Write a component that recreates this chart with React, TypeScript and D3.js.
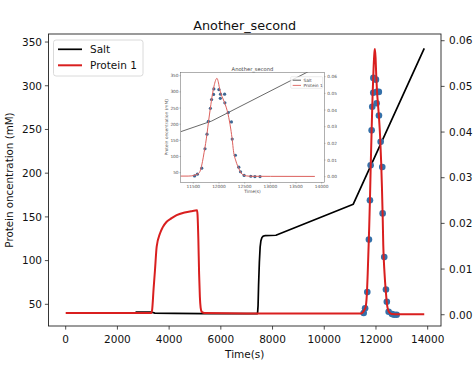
import React from 'react';
import * as d3 from 'd3';

// Protein 1 trace (left axis, mM)
const proteinTime = [0, 3300, 3340, 3400, 3453, 3519, 3646, 3750, 3905, 4100, 4292, 4600, 4850, 5080, 5100, 5130, 5160, 5190, 5220, 5260, 5330, 5400, 7000, 11400, 11460, 11500, 11547, 11600, 11640, 11680, 11710, 11740, 11767, 11800, 11833, 11870, 11910, 11940, 11960, 11985, 12010, 12040, 12080, 12120, 12160, 12200, 12230, 12260, 12282, 12330, 12386, 12430, 12476, 12540, 12606, 13000, 13867];
const proteinConc = [40, 40, 43, 68, 89, 116, 131, 138, 144.5, 148.5, 152, 155, 156.5, 157.5, 152, 125, 85, 58, 46, 41.5, 40.3, 40, 39.6, 39.5, 40, 41, 43.5, 47, 58, 85, 112, 140, 170, 212, 250, 290, 322, 338, 342, 332, 312, 294, 278, 262, 242, 213, 185, 150, 118, 86, 63, 49, 43, 40, 39, 38.7, 38.5];

// Salt trace (right axis)
const saltTime = [2700, 3300, 3450, 4200, 5300, 7420, 7440, 7460, 7490, 7520, 7550, 7590, 7640, 7700, 8130, 11122, 13867];
const saltConc = [0.0006, 0.0006, 0.00035, 0.00028, 0.00026, 0.00026, 0.002, 0.0065, 0.0115, 0.0148, 0.0162, 0.0169, 0.0172, 0.0173, 0.0174, 0.0242, 0.0583];

// Measured fractions (left axis)
const pointTime = [11525, 11580, 11665, 11728, 11767, 11794, 11833, 11856, 11895, 11900, 11999, 12030, 12026, 12110, 12115, 12181, 12243, 12258, 12320, 12386, 12420, 12490, 12620, 12700, 12800];
const pointConc = [40, 45.5, 64, 124, 169, 209, 249, 276, 292, 309, 307, 293, 280, 293, 266, 236, 207, 154, 104, 67, 53, 41.5, 39, 38, 38];

// Inset salt trace (its own right axis)
const insetSaltTime = [11255, 11858, 13750];
const insetSaltConc = [0.027, 0.0334, 0.0632];

const xTicks = [0, 2000, 4000, 6000, 8000, 10000, 12000, 14000];
const yTicks = [50, 100, 150, 200, 250, 300, 350];
const y2Ticks = [0, 0.01, 0.02, 0.03, 0.04, 0.05, 0.06];
const insetXTicks = [11500, 12000, 12500, 13000, 13500, 14000];

const FONT = '"DejaVu Sans", sans-serif';
const RED = '#d91f1f';
const BLUE = '#3470a9';

const L = 48.5, R = 441, T = 34, B = 326;
const IL = 180.7, IR = 324.3, IT = 72.3, IB = 182.3;

export default function App() {
  const x = d3.scaleLinear().domain([-665, 14515]).range([L, R]);
  const y = d3.scaleLinear().domain([25.2, 359.2]).range([B, T]);
  const y2 = d3.scaleLinear().domain([-0.00247, 0.06147]).range([B, T]);

  const ix = d3.scaleLinear().domain([11255, 14051]).range([IL, IR]);
  const iy = d3.scaleLinear().domain([20.3, 360.5]).range([IB, IT]);
  const iy2 = d3.scaleLinear().domain([-0.00336, 0.06264]).range([IB, IT]);

  const protein = proteinTime.map((t, i) => [t, proteinConc[i]] as [number, number]);
  const salt = saltTime.map((t, i) => [t, saltConc[i]] as [number, number]);
  const insetSalt = insetSaltTime.map((t, i) => [t, insetSaltConc[i]] as [number, number]);

  const redLine = d3.line<[number, number]>().x(d => x(d[0])).y(d => y(d[1])).curve(d3.curveMonotoneX);
  const blackLine = d3.line<[number, number]>().x(d => x(d[0])).y(d => y2(d[1]));
  const iRedLine = d3.line<[number, number]>().x(d => ix(d[0])).y(d => iy(d[1])).curve(d3.curveMonotoneX);
  const iBlackLine = d3.line<[number, number]>().x(d => ix(d[0])).y(d => iy2(d[1]));

  const fmt2 = d3.format('.2f');

  return (
    <svg width={474} height={372} style={{ position: 'fixed', left: 0, top: 0, background: '#fff' }} fontFamily={FONT}>
      <defs>
        <clipPath id="main-clip"><rect x={L} y={T} width={R - L} height={B - T} /></clipPath>
        <clipPath id="inset-clip"><rect x={IL} y={IT} width={IR - IL} height={IB - IT} /></clipPath>
      </defs>
      <rect x={0} y={0} width={474} height={372} fill="#fff" />

      {/* main data */}
      <g clipPath="url(#main-clip)">
        <path d={blackLine(salt) || ''} fill="none" stroke="#000" strokeWidth={1.7} strokeLinejoin="round" />
        {pointTime.map((t, i) => (
          <circle key={i} cx={x(t)} cy={y(pointConc[i])} r={3.3} fill={BLUE} />
        ))}
        <path d={redLine(protein) || ''} fill="none" stroke={RED} strokeWidth={2} />
      </g>

      {/* spines */}
      <rect x={L} y={T} width={R - L} height={B - T} fill="none" stroke="#222" strokeWidth={0.9} />

      {/* x axis */}
      {xTicks.map(t => (
        <g key={t}>
          <line x1={x(t)} x2={x(t)} y1={B} y2={B + 3.6} stroke="#222" strokeWidth={0.8} />
          <text x={x(t)} y={343} fontSize={10.5} textAnchor="middle" fill="#111">{t}</text>
        </g>
      ))}
      <text x={(L + R) / 2} y={357.5} fontSize={10.5} textAnchor="middle" fill="#111">Time(s)</text>

      {/* left axis */}
      {yTicks.map(t => (
        <g key={t}>
          <line x1={L - 3.6} x2={L} y1={y(t)} y2={y(t)} stroke="#222" strokeWidth={0.8} />
          <text x={42} y={y(t)} dy="0.36em" fontSize={10.5} textAnchor="end" fill="#111">{t}</text>
        </g>
      ))}
      <text transform={`translate(13,${(T + B) / 2}) rotate(-90)`} fontSize={10.3} textAnchor="middle" fill="#111">Protein oncentration (mM)</text>

      {/* right axis */}
      {y2Ticks.map(t => (
        <g key={t}>
          <line x1={R} x2={R + 3.6} y1={y2(t)} y2={y2(t)} stroke="#222" strokeWidth={0.8} />
          <text x={449} y={y2(t)} dy="0.36em" fontSize={10.5} textAnchor="start" fill="#111">{fmt2(t)}</text>
        </g>
      ))}

      <text x={(L + R) / 2} y={29.5} fontSize={12.8} textAnchor="middle" fill="#111">Another_second</text>

      {/* legend */}
      <g>
        <rect x={53.5} y={40} width={89.5} height={36} rx={2.5} fill="#fff" fillOpacity={0.8} stroke="#d0d0d0" strokeWidth={0.8} />
        <line x1={58} x2={82} y1={49.3} y2={49.3} stroke="#000" strokeWidth={1.7} />
        <text x={90} y={49.3} dy="0.36em" fontSize={10.5} fill="#111">Salt</text>
        <line x1={58} x2={82} y1={65.3} y2={65.3} stroke={RED} strokeWidth={2} />
        <text x={90} y={65.3} dy="0.36em" fontSize={10.5} fill="#111">Protein 1</text>
      </g>

      {/* inset */}
      <g opacity={0.92}>
        <g clipPath="url(#inset-clip)">
          <path d={iBlackLine(insetSalt) || ''} fill="none" stroke="#333" strokeWidth={0.8} />
          {pointTime.map((t, i) => (
            <circle key={i} cx={ix(t)} cy={iy(pointConc[i])} r={1.6} fill="#2d5b8a" />
          ))}
          <path d={iRedLine(protein) || ''} fill="none" stroke="#d9534f" strokeWidth={1} />
        </g>
        <rect x={IL} y={IT} width={IR - IL} height={IB - IT} fill="none" stroke="#555" strokeWidth={0.5} />
        {insetXTicks.map(t => (
          <g key={t}>
            <line x1={ix(t)} x2={ix(t)} y1={IB} y2={IB + 1.3} stroke="#555" strokeWidth={0.4} />
            <text x={ix(t)} y={188.2} fontSize={4.3} textAnchor="middle" fill="#444">{t}</text>
          </g>
        ))}
        <text x={(IL + IR) / 2} y={192.6} fontSize={4.4} textAnchor="middle" fill="#444">Time(s)</text>
        {yTicks.map(t => (
          <g key={t}>
            <line x1={IL - 1.3} x2={IL} y1={iy(t)} y2={iy(t)} stroke="#555" strokeWidth={0.4} />
            <text x={178.6} y={iy(t)} dy="0.36em" fontSize={4.3} textAnchor="end" fill="#444">{t}</text>
          </g>
        ))}
        <text transform={`translate(168.3,${(IT + IB) / 2}) rotate(-90)`} fontSize={4.3} textAnchor="middle" fill="#444">Protein oncentration (mM)</text>
        {y2Ticks.map(t => (
          <g key={t}>
            <line x1={IR} x2={IR + 1.3} y1={iy2(t)} y2={iy2(t)} stroke="#555" strokeWidth={0.4} />
            <text x={327.3} y={iy2(t)} dy="0.36em" fontSize={4.3} textAnchor="start" fill="#444">{fmt2(t)}</text>
          </g>
        ))}
        <text x={(IL + IR) / 2} y={70.6} fontSize={5.2} textAnchor="middle" fill="#333">Another_second</text>
        <rect x={290.7} y={76.7} width={32} height={11.6} rx={1} fill="#fff" fillOpacity={0.8} stroke="#ccc" strokeWidth={0.4} />
        <line x1={292.7} x2={301} y1={80.2} y2={80.2} stroke="#222" strokeWidth={0.8} />
        <text x={303.5} y={80.2} dy="0.36em" fontSize={4.3} fill="#333">Salt</text>
        <line x1={292.7} x2={301} y1={85.4} y2={85.4} stroke="#d9534f" strokeWidth={0.9} />
        <text x={303.5} y={85.4} dy="0.36em" fontSize={4.3} fill="#333">Protein 1</text>
      </g>
    </svg>
  );
}
